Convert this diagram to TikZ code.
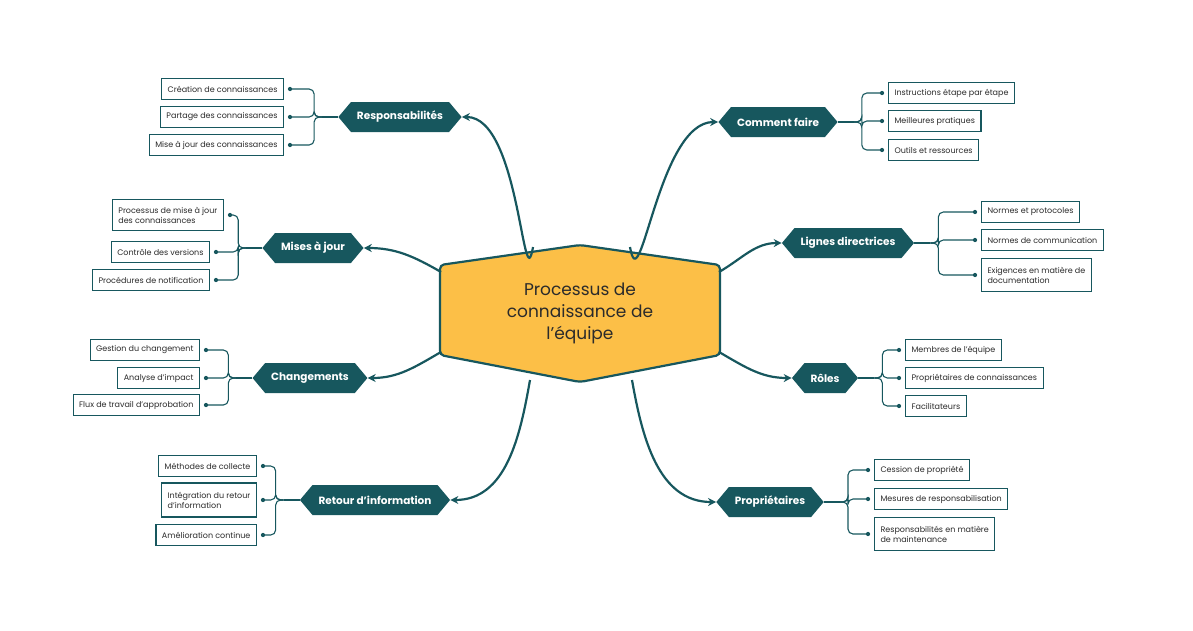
\documentclass[tikz,border=0pt]{standalone}
\usepackage{fontspec}
\setmainfont{Poppins}
\usetikzlibrary{shapes.symbols,calc,arrows.meta}
\definecolor{teal}{HTML}{17575E}
\definecolor{gold}{HTML}{FCBF47}
\definecolor{ink}{HTML}{2B2B2B}
\tikzset{
 br/.style={signal, signal to=east and west, signal pointer angle=100, fill=teal, text=white, font=\fontsize{10.5}{12}\selectfont\bfseries, inner xsep=6pt, minimum height=30pt, inner ysep=0pt},
 lf/.style={draw=teal, line width=1.1pt, fill=white, text=ink, font=\fontsize{8}{10}\selectfont, inner xsep=6pt, minimum height=21pt, align=left},
 cn/.style={draw=teal, line width=1.1pt, rounded corners=5pt},
 main/.style={draw=teal, line width=2.2pt, -{Stealth[length=8pt,width=8pt]}},
 dt/.style={fill=teal, circle, inner sep=1.5pt}
}
\begin{document}
\begin{tikzpicture}[x=1pt,y=-1pt]
\useasboundingbox (0,0) rectangle (1193,630);
% center
\fill[gold,draw=teal,line width=2.2pt,rounded corners=4pt] (440,265) -- (580,245) -- (720,265) -- (720,355) -- (580,382) -- (440,355) -- cycle;
\node[text=ink,font=\fontsize{17}{22}\selectfont,align=center] (c) at (580,313) {Processus de\\connaissance de\\l’équipe};
\coordinate (c1) at (533,247); \coordinate (c2) at (441,272); \coordinate (c3) at (441,352); \coordinate (c4) at (530,380);
\coordinate (c5) at (630,247); \coordinate (c6) at (719,272); \coordinate (c7) at (719,352); \coordinate (c8) at (632,380);
% branches
\node[br] (b1) at (400,117) {Responsabilités};
\node[br] (b2) at (313,248) {Mises à jour};
\node[br] (b3) at (310,378) {Changements};
\node[br] (b4) at (375,500) {Retour d’information};
\node[br] (b5) at (778,122) {Comment faire};
\node[br] (b6) at (848,243) {Lignes directrices};
\node[br] (b7) at (825,378) {Rôles};
\node[br] (b8) at (770,502) {Propriétaires};
\draw[main] (c1) to[out=-100,in=0] (b1.east);
\draw[main] (c2) to[out=150,in=0] (b2.east);
\draw[main] (c3) to[out=210,in=0] (b3.east);
\draw[main] (c4) to[out=-100,in=0] (b4.east);
\draw[main] (c5) to[out=-80,in=180] (b5.west);
\draw[main] (c6) to[out=30,in=180] (b6.west);
\draw[main] (c7) to[out=-30,in=180] (b7.west);
\draw[main] (c8) to[out=-80,in=180] (b8.west);
% leaves left
\node[lf,anchor=east] (l11) at (284,89) {Création de connaissances};
\node[lf,anchor=east] (l12) at (284,117) {Partage des connaissances};
\node[lf,anchor=east] (l13) at (284,145) {Mise à jour des connaissances};
\node[lf,anchor=east,minimum height=31pt] (l21) at (224,215) {Processus de mise à jour\\des connaissances};
\node[lf,anchor=east] (l22) at (210,252) {Contrôle des versions};
\node[lf,anchor=east] (l23) at (210,280) {Procédures de notification};
\node[lf,anchor=east] (l31) at (200,350) {Gestion du changement};
\node[lf,anchor=east] (l32) at (200,378) {Analyse d’impact};
\node[lf,anchor=east] (l33) at (200,405) {Flux de travail d’approbation};
\node[lf,anchor=east] (l41) at (257,466) {Méthodes de collecte};
\node[lf,anchor=east,minimum height=34pt] (l42) at (257,500) {Intégration du retour\\d’information};
\node[lf,anchor=east] (l43) at (257,535) {Amélioration continue};
% leaves right
\node[lf,anchor=west] (l51) at (888,93) {Instructions étape par étape};
\node[lf,anchor=west] (l52) at (888,121) {Meilleures pratiques};
\node[lf,anchor=west] (l53) at (888,150) {Outils et ressources};
\node[lf,anchor=west] (l61) at (981,212) {Normes et protocoles};
\node[lf,anchor=west] (l62) at (981,240) {Normes de communication};
\node[lf,anchor=west,minimum height=33pt] (l63) at (981,275) {Exigences en matière de\\documentation};
\node[lf,anchor=west] (l71) at (905,350) {Membres de l’équipe};
\node[lf,anchor=west] (l72) at (905,378) {Propriétaires de connaissances};
\node[lf,anchor=west] (l73) at (905,406) {Facilitateurs};
\node[lf,anchor=west] (l81) at (874,470) {Cession de propriété};
\node[lf,anchor=west] (l82) at (874,499) {Mesures de responsabilisation};
\node[lf,anchor=west,minimum height=33pt] (l83) at (874,534) {Responsabilités en matière\\de maintenance};
% brackets left
\foreach \b/\la/\lb/\lc in {b1/l11/l12/l13,b2/l21/l22/l23,b3/l31/l32/l33,b4/l41/l42/l43}{
 \coordinate (j) at ($(\b.west)+(-16,0)$);
 \draw[cn] (\b.west) -- (j);
 \foreach \l in {\la,\lb,\lc}{
  \coordinate (d) at ($(\l.east)+(6,0)$);
  \draw[cn] (j) -- ++(-8,0) |- (d);
  \node[dt] at (d) {};
 }
}
% brackets right
\foreach \b/\la/\lb/\lc in {b5/l51/l52/l53,b6/l61/l62/l63,b7/l71/l72/l73,b8/l81/l82/l83}{
 \coordinate (j) at ($(\b.east)+(16,0)$);
 \draw[cn] (\b.east) -- (j);
 \foreach \l in {\la,\lb,\lc}{
  \coordinate (d) at ($(\l.west)+(-6,0)$);
  \draw[cn] (j) -- ++(8,0) |- (d);
  \node[dt] at (d) {};
 }
}
\end{tikzpicture}
\end{document}
